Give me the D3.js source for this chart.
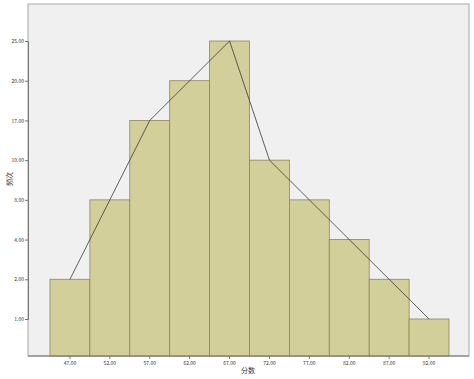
<!DOCTYPE html>
<html>
<head>
<meta charset="utf-8">
<script src="https://cdn.jsdelivr.net/npm/d3@7"></script>
<style>
  body { margin: 0; background: #fff; }
  text { font-family: "Noto Sans CJK SC", "DejaVu Sans", sans-serif; fill: #333; }
</style>
</head>
<body>
<svg id="chart" width="474" height="379"></svg>
<script>
// bin midpoints and counts
const bins = ["47.00", "52.00", "57.00", "62.00", "67.00", "72.00", "77.00", "82.00", "87.00", "92.00"];
const counts = [2, 8, 17, 20, 25, 10, 8, 4, 2, 1];
// SPSS printed the distinct counts as evenly spaced y labels
const yTicks = ["1.00", "2.00", "4.00", "8.00", "10.00", "17.00", "20.00", "25.00"];

const svg = d3.select("#chart");
const plotLeft = 28, plotRight = 469, plotTop = 4, plotBottom = 356;

svg.append("rect")
    .attr("x", plotLeft).attr("y", plotTop)
    .attr("width", plotRight - plotLeft).attr("height", plotBottom - plotTop)
    .attr("fill", "#f0f0f0")
    .attr("stroke", "#a8a8a8");

const x = d3.scaleBand()
    .domain(bins)
    .range([50, 449]);

const y = d3.scalePoint()
    .domain(yTicks)
    .range([319, 41]);

const yVal = v => y(v.toFixed(2));

svg.append("g")
    .selectAll("rect")
    .data(counts)
    .join("rect")
    .attr("x", (d, i) => x(bins[i]))
    .attr("y", d => yVal(d))
    .attr("width", x.bandwidth())
    .attr("height", d => plotBottom - yVal(d))
    .attr("fill", "#d3cf9b")
    .attr("stroke", "#8a865e")
    .attr("stroke-width", 0.8);

const line = d3.line()
    .x((d, i) => x(bins[i]) + x.bandwidth() / 2)
    .y(d => yVal(d));

svg.append("path")
    .datum(counts)
    .attr("d", line)
    .attr("fill", "none")
    .attr("stroke", "#3a3a3a")
    .attr("stroke-width", 0.8);

// axes
const yAxis = svg.append("g")
    .attr("transform", `translate(${plotLeft},0)`)
    .call(d3.axisLeft(y).tickSize(3).tickPadding(1));
yAxis.select(".domain").attr("stroke", "#777");
yAxis.selectAll("line").attr("stroke", "#777");
yAxis.selectAll("text").attr("font-size", 5).attr("fill", "#555");

const xAxis = svg.append("g")
    .attr("transform", `translate(0,${plotBottom})`)
    .call(d3.axisBottom(x).tickSize(3).tickPadding(2));
xAxis.select(".domain").remove();
xAxis.selectAll("line").attr("stroke", "#777");
xAxis.selectAll("text").attr("font-size", 5).attr("fill", "#555");

svg.append("line")
    .attr("x1", plotLeft).attr("x2", plotRight)
    .attr("y1", plotBottom).attr("y2", plotBottom)
    .attr("stroke", "#777");

svg.append("text")
    .attr("x", 248)
    .attr("y", 373)
    .attr("text-anchor", "middle")
    .attr("font-size", 7)
    .text("分数");

svg.append("text")
    .attr("transform", "translate(12,179) rotate(-90)")
    .attr("text-anchor", "middle")
    .attr("font-size", 7)
    .text("频次");
</script>
</body>
</html>
